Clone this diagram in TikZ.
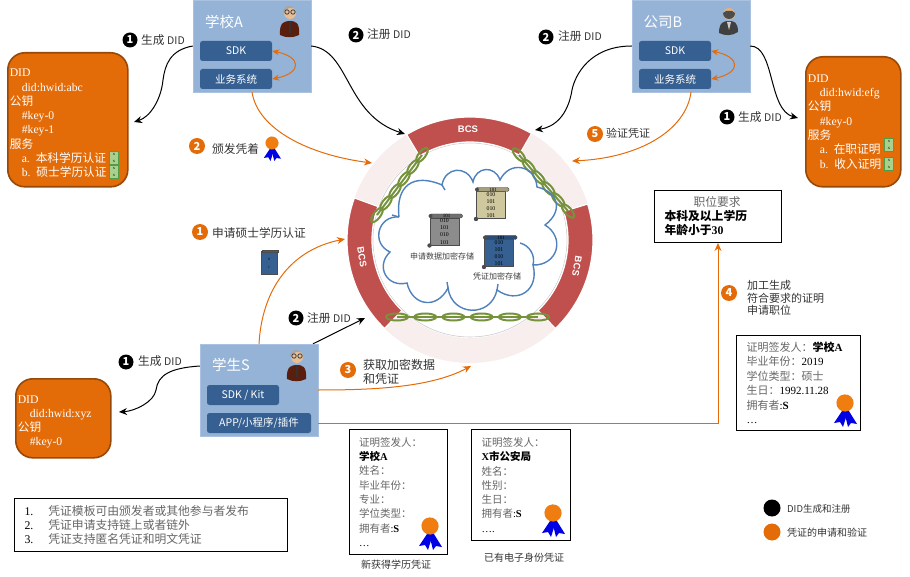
\documentclass[tikz,border=0pt]{standalone}
\usepackage{fontspec}
\usepackage{xcolor}
\usetikzlibrary{calc,arrows.meta,shapes.geometric}
\setmainfont{Liberation Serif}
\newfontfamily\cjk{Noto Sans CJK SC}
\newfontfamily\arial{Liberation Sans}
\newcommand{\zh}[1]{{\cjk #1}}
\newcommand{\hui}[1]{{\cjk\color{black!60}#1}}
\newcommand{\cu}[1]{{\cjk\bfseries #1}}
\newcommand{\fs}[1]{\fontsize{#1}{#1}\selectfont}

\definecolor{panelblue}{HTML}{95B3D7}
\definecolor{btnblue}{HTML}{366092}
\definecolor{didorange}{HTML}{E36C09}
\definecolor{didedge}{HTML}{984807}
\definecolor{ringred}{HTML}{C0504D}
\definecolor{ringpale}{HTML}{F7EEED}
\definecolor{chaingreen}{HTML}{76923C}
\definecolor{cloudblue}{HTML}{4F81BD}
\definecolor{medalorange}{HTML}{F07D0F}
\definecolor{scrollgray}{HTML}{8C8C8C}
\definecolor{scrolltan}{HTML}{CFC79E}
\definecolor{tagfill}{HTML}{A9D18E}
\definecolor{manbrown}{HTML}{5A1E0E}
\definecolor{manskin}{HTML}{E9BE94}

\tikzset{
    panel/.style={fill=panelblue, draw=panelblue!80!white, minimum width=118, minimum height=92, inner sep=0},
    button/.style={fill=btnblue, rounded corners=2.5, text=white, minimum width=72, minimum height=20, inner sep=0, font=\cjk\fs{10.5}},
    paneltitle/.style={text=white, font=\cjk\fs{14.5}, inner sep=0},
    didbox/.style={fill=didorange, draw=didedge, line width=1.6, rounded corners=17, align=left, text=white, inner xsep=2, inner ysep=0, anchor=north west, font=\fontsize{11.7}{14.3}\selectfont},
    certbox/.style={draw=black, line width=1, fill=white, align=left, inner xsep=10, inner ysep=0, anchor=north west, font=\fontsize{10.5}{14.3}\selectfont},
    note/.style={text=black!80, font=\cjk\fs{11.7}, inner sep=0, anchor=west, align=left},
    blackdot/.style={circle, fill=black, text=white, minimum size=15, inner sep=0, font=\cjk\bfseries\fs{11}},
    orangedot/.style={circle, fill=didorange, text=white, minimum size=16, inner sep=0, font=\cjk\bfseries\fs{11}},
    blackline/.style={->, >={Stealth[length=8pt,width=7pt]}, line width=1, black},
    orangeline/.style={->, >={Stealth[length=8pt,width=7pt]}, line width=1, didorange},
    swapline/.style={<->, >={Stealth[length=7pt,width=6pt]}, line width=1, didorange},
    chainlink/.style={ellipse, draw=chaingreen, line width=2, minimum height=7, inner sep=0},
    medal/.pic={
        \fill[blue!90!black] (-1,5) -- (-11,20) -- (-5,19) -- (-2,24) -- (3,8) -- cycle;
        \fill[blue!90!black] (-1,8) -- (3,24) -- (6,20) -- (12,21) -- (2,5) -- cycle;
        \fill[medalorange, draw=didorange, densely dotted] (0,0) circle (8.5);
    },
    oldman/.pic={
        \fill[manbrown] (-10,22) .. controls (-11,9) and (-5,8) .. (0,8) .. controls (5,8) and (10,9) .. (9,22) .. controls (3,25) and (-4,25) .. (-10,22) -- cycle;
        \fill[black!80] (-1,9) -- (1,9) -- (1,20) -- (-1,20) -- cycle;
        \fill[manskin] (0,0) circle (6);
        \fill[black!35] (-7,-1) arc (180:320:6 and 6) -- (-1,-5) -- cycle;
        \draw[black!75, line width=.8] (-3,-1) circle (2.2) (3,-1) circle (2.2);
    },
    suitman/.pic={
        \fill[black!75] (-10,16) .. controls (-10,5) and (-5,4) .. (0,4) .. controls (5,4) and (9,5) .. (9,15) .. controls (3,19) and (-4,19) .. (-10,16) -- cycle;
        \fill[white!80!black] (-2,5) -- (2,5) -- (0,13) -- cycle;
        \fill[manskin!80!brown] (0,-3) circle (6);
        \fill[black!70] (-6,-4) arc (180:0:6) -- (3,-6) -- (-3,-6) -- cycle;
    },
    scrollicon/.pic={
        \fill[#1, draw=black!70, line width=.4] (-14.5,-13.5) rectangle (14.5,13.5);
        \fill[#1!80!black, draw=black!70, line width=.4, rounded corners=1.5] (-15,-17.5) rectangle (18,-13.5);
        \fill[black!70] (-14,-15.5) circle (2) (-15,14) circle (2.2);
        \node (bits) at (0,0) [inner sep=0, align=center, font=\fontsize{5.8}{7.2}\selectfont\rmfamily] {010\\101\\010\\101};
        \node (bithead) at (2,-15.5) [inner sep=0, font=\fontsize{5}{5}\selectfont\rmfamily] {101};
    },
    greenscroll/.pic={
        \fill[tagfill, draw=tagfill!70!green!70!black, line width=.6] (-4.5,-6.5) rectangle (4.5,6.5);
        \node (bits) at (0,0) [inner sep=0, align=center, font=\fontsize{4.5}{7}\selectfont\rmfamily] {x\\x};
    },
    bluenote/.pic={
        \fill[btnblue, draw=black!70, line width=.4] (-7,-12) rectangle (9,11);
        \fill[btnblue, draw=black!70, line width=.4] (-6,-13) rectangle (10,-11);
        \node (bits) at (1,0) [text=black, inner sep=0, align=center, font=\fontsize{3.5}{8}\selectfont\rmfamily] {0\\1};
    }
}

\newcommand{\ringseg}[2]{\fill[ringred, draw=white, line width=1.2] (#1:123) arc (#1:#2:123) -- (#2:98) arc (#2:#1:98) -- cycle;}
\newcommand{\chainrow}[4]{
    \draw[chaingreen, line width=2] (#1) -- (#2);
    \foreach \t in {0,0.2,0.4,0.6,0.8,1} {\node[chainlink, rotate=#3, minimum width=#4] (link) at ($(#1)!\t!(#2)$) {};}
}

\begin{document}
\begin{tikzpicture}[x=1pt, y=-1pt]
    \useasboundingbox (0,0) rectangle (910,577);

    % ring and chains
    \begin{scope}[shift={(470,240)}, y=1pt]
        \fill[ringpale] (0,0) circle (123);
        \fill[white] (0,0) circle (98);
        \draw[black!20, line width=.6] (0,0) circle (97);
        \ringseg{60}{121}
        \ringseg{160}{226}
        \ringseg{-46}{17}
    \end{scope}
    \node[text=white, font=\arial\bfseries\fs{9.5}, inner sep=0] (bcsTop) at (468,129) {BCS};
    \node[text=white, font=\arial\bfseries\fs{9.5}, inner sep=0, rotate=-80] (bcsLeft) at (362,257) {BCS};
    \node[text=white, font=\arial\bfseries\fs{9.5}, inner sep=0, rotate=-100] (bcsRight) at (577,266) {BCS};

    \coordinate (chainA1) at (422,155);
    \coordinate (chainA2) at (377,215);
    \coordinate (chainB1) at (519,155);
    \coordinate (chainB2) at (568,211);
    \coordinate (chainC1) at (397,317);
    \coordinate (chainC2) at (538,317);
    \chainrow{chainA1}{chainA2}{53}{17}
    \chainrow{chainB1}{chainB2}{-48}{17}
    \chainrow{chainC1}{chainC2}{0}{22}

    % cloud
    \draw[cloudblue, line width=1.4, looseness=1.5] (399,217)
        to[bend right=80] (390,252) to[bend right=75] (407,283) to[bend right=70] (448,288)
        to[bend right=80] (497,290) to[bend right=70] (533,265) to[bend right=75] (545,225)
        to[bend right=65] (537,187) to[bend right=75] (500,180) to[bend right=75] (473,182)
        to[bend right=75] (442,185) to[bend right=60] (399,217);
    \draw[cloudblue, line width=1.4] (520,243) to[bend left=45] (533,265);
    \draw[cloudblue, line width=1.4] (399,217) -- (392,215) (442,185) -- (445,190) (448,288) -- (447,282) (497,290) -- (498,284);

    \pic at (444.5,231.5) {scrollicon=scrollgray};
    \pic at (491,205) {scrollicon=scrolltan};
    \pic at (499,253) {scrollicon=btnblue};
    \node[text=black!75, font=\cjk\fs{8}, inner sep=0] (storeA) at (442,256) {申请数据加密存储};
    \node[text=black!75, font=\cjk\fs{8}, inner sep=0] (storeB) at (497,276) {凭证加密存储};

    % school, company, student
    \node[panel] (schoolA) at (252,46) {};
    \node[paneltitle] (titleA) at (224,22) {学校A};
    \node[button] (sdkA) at (236,51) {SDK};
    \node[button] (bizA) at (236,79) {业务系统};
    \pic at (290,13) {oldman};

    \node[panel] (companyB) at (691,46) {};
    \node[paneltitle] (titleB) at (663,22) {公司B};
    \node[button] (sdkB) at (675,51) {SDK};
    \node[button] (bizB) at (675,79) {业务系统};
    \pic at (729,17) {suitman};

    \node[panel] (studentS) at (259,390) {};
    \node[paneltitle] (titleS) at (231,365) {学生S};
    \node[button] (sdkS) at (243,395) {SDK / Kit};
    \node[button, minimum width=104] (appS) at (259,423) {APP/小程序/插件};
    \pic at (297,357) {oldman};

    \draw[swapline] (sdkA.east) .. controls (302,57) and (302,73) .. (bizA.east);
    \draw[swapline] (sdkB.east) .. controls (741,57) and (741,73) .. (bizB.east);

    % did documents
    \node[didbox, text width=116, minimum height=134] (didA) at (7,52) {\rule{0pt}{15pt}DID\\\hspace*{12pt}did:hwid:abc\\\zh{公钥}\\\hspace*{12pt}\#key-0\\\hspace*{12pt}\#key-1\\\zh{服务}\\\hspace*{12pt}a. \zh{本科学历认证}\\\hspace*{12pt}b. \zh{硕士学历认证}};
    \node[didbox, text width=91, minimum height=130] (didB) at (805,56) {DID\\\hspace*{12pt}did:hwid:efg\\\zh{公钥}\\\hspace*{12pt}\#key-0\\\zh{服务}\\\hspace*{12pt}a. \zh{在职证明}\\\hspace*{12pt}b. \zh{收入证明}};
    \node[didbox, text width=91, minimum height=79] (didS) at (15,378) {\rule{0pt}{15pt}DID\\\hspace*{12pt}did:hwid:xyz\\\zh{公钥}\\\hspace*{12pt}\#key-0};
    \pic at (114,158) {greenscroll};
    \pic at (114,172) {greenscroll};
    \pic at (889,145) {greenscroll};
    \pic at (889,164) {greenscroll};

    % connectors
    \coordinate (didAin) at (134,122);
    \coordinate (didBin) at (798,118);
    \coordinate (didSin) at (119,412);
    \coordinate (ringTL) at (405,134);
    \coordinate (ringTR) at (535,130);
    \coordinate (ringL) at (372,163);
    \coordinate (ringR) at (572,161);
    \coordinate (ringW) at (345,239);
    \coordinate (ringS) at (471,366);
    \coordinate (ringBL) at (365,318);

    \draw[blackline] (schoolA.west) .. controls (170,50) and (165,65) .. (163,80) .. controls (161,100) and (150,117) .. (didAin);
    \draw[blackline] (schoolA.east) .. controls (350,50) and (345,115) .. (ringTL);
    \draw[blackline] (companyB.west) .. controls (590,46) and (575,75) .. (572,90) .. controls (568,115) and (555,127) .. (ringTR);
    \draw[blackline] (companyB.east) .. controls (775,46) and (768,110) .. (didBin);
    \draw[blackline] ([yshift=24pt]studentS.west) .. controls (170,368) and (158,375) .. (156,390) .. controls (154,402) and (135,411) .. (didSin);
    \draw[blackline] ([xshift=54pt]studentS.north) -- (ringBL);

    \draw[orangeline] (schoolA.south) .. controls (258,130) and (310,155) .. (ringL);
    \draw[orangeline] (companyB.south) .. controls (686,130) and (640,158) .. (ringR);
    \draw[orangeline] (studentS.north) .. controls (262,290) and (290,250) .. (ringW);
    \draw[orangeline] (studentS.east) .. controls (370,390) and (430,388) .. (ringS);

    % job box
    \node[certbox, text width=107, minimum height=52, font=\fontsize{11.8}{14}\selectfont] (jobBox) at (654,190) {\hspace*{29pt}\hui{职位要求}\\\cu{本科及以上学历}\\\cu{年龄小于}\textbf{30}};
    \draw[orangeline] ([yshift=-33pt]studentS.east) -| (jobBox.south);

    % step labels
    \node[blackdot] (stepA1) at (130,40) {1};
    \node[note] (textA1) at (141,40) {生成 {\fs{10.5}DID}};
    \node[blackdot] (stepA2) at (356,35) {2};
    \node[note] (textA2) at (367,34) {注册 {\fs{10.5}DID}};
    \node[blackdot] (stepB2) at (546,37) {2};
    \node[note] (textB2) at (558,36) {注册 {\fs{10.5}DID}};
    \node[blackdot] (stepB1) at (727,117) {1};
    \node[note] (textB1) at (738,117) {生成 {\fs{10.5}DID}};
    \node[blackdot] (stepS1) at (126,362) {1};
    \node[note] (textS1) at (138,361) {生成 {\fs{10.5}DID}};
    \node[blackdot] (stepS2) at (296,318) {2};
    \node[note] (textS2) at (307,318) {注册 {\fs{10.5}DID}};

    \node[orangedot] (issue2) at (197,146) {2};
    \node[note] (issueText) at (212,149) {颁发凭着};
    \pic[scale=.75] at (272,143) {medal};
    \node[orangedot] (verify5) at (595,134) {5};
    \node[note, font=\cjk\fs{11}] (verifyText) at (606,133) {验证凭证};
    \node[orangedot] (apply1) at (200,232) {1};
    \node[note] (applyText) at (212,233) {申请硕士学历认证};
    \pic at (268,263) {bluenote};
    \node[orangedot] (fetch3) at (348,370) {3};
    \node[note, font=\fontsize{12}{13.5}\selectfont\cjk] (fetchText) at (363,372) {获取加密数据\\和凭证};
    \node[orangedot] (make4) at (729,293) {4};
    \node[note, font=\fontsize{11}{12.6}\selectfont\cjk] (makeText) at (747,298) {加工生成\\符合要求的证明\\申请职位};

    % certificates
    \node[certbox, text width=78, minimum height=125] (certNew) at (348.5,429) {\hui{证明签发人：}\\\cu{学校}\textbf{A}\\\hui{姓名：}\\\hui{毕业年份：}\\\hui{专业：}\\\hui{学位类型：}\\\hui{拥有者}:\textbf{S}\\\dots};
    \pic at (430,526) {medal};
    \node[note, font=\cjk\fs{10}, anchor=center] (certNewCap) at (396,565) {新获得学历凭证};

    \node[certbox, text width=79, minimum height=111] (certId) at (471,429) {\hui{证明签发人：}\\\textbf{X}\cu{市公安局}\\\hui{姓名：}\\\hui{性别：}\\\hui{生日：}\\\hui{拥有者}:\textbf{S}\\\dots.};
    \pic at (553,513) {medal};
    \node[note, font=\cjk\fs{10}, anchor=center] (certIdCap) at (524,558) {已有电子身份凭证};

    \node[certbox, text width=104, minimum height=95, font=\fontsize{11}{14.5}\selectfont] (certOut) at (736,335) {\hui{证明签发人：}\cu{学校}\textbf{A}\\\hui{毕业年份：}2019\\\hui{学位类型：硕士}\\\hui{生日：}1992.11.28\\\hui{拥有者}:\textbf{S}\\\dots};
    \pic at (845,403) {medal};

    % notes and legend
    \node[certbox, text width=253, minimum height=53, font=\fontsize{11.8}{14}\selectfont] (notes) at (14,498) {1.\hspace{15pt}\hui{凭证模板可由颁发者或其他参与者发布}\\2.\hspace{15pt}\hui{凭证申请支持链上或者链外}\\3.\hspace{15pt}\hui{凭证支持匿名凭证和明文凭证}};

    \node[circle, fill=black, minimum size=17, inner sep=0] (legendA) at (772,508) {};
    \node[note, font=\cjk\fs{9.5}] (legendAText) at (787,509) {DID生成和注册};
    \node[circle, fill=didorange, minimum size=17, inner sep=0] (legendB) at (772,532) {};
    \node[note, font=\cjk\fs{10}] (legendBText) at (787,533) {凭证的申请和验证};
\end{tikzpicture}
\end{document}
